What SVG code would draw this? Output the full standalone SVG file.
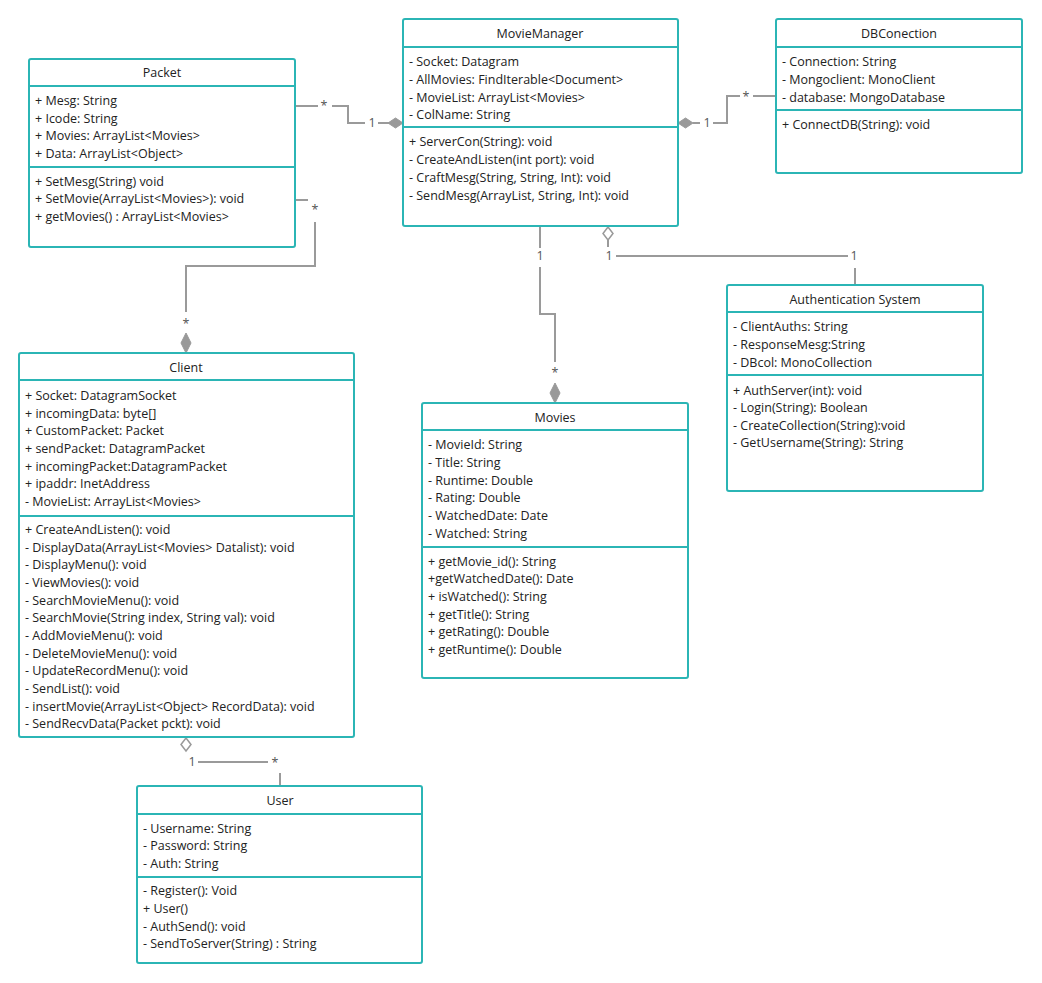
<svg xmlns="http://www.w3.org/2000/svg" width="1042" height="983" viewBox="0 0 1042 983">
<style>
.box{fill:#fff;stroke:#2bb5b5;stroke-width:2}
.div{stroke:#2bb5b5;stroke-width:2}
text{font-family:"Open Sans","Noto Sans",sans-serif;font-size:12.5px;fill:#222}
.t{text-anchor:middle}
.c line,.c polyline{stroke:#9a9a9a;stroke-width:2;fill:none}
.c text{fill:#555;text-anchor:middle}
.fd{fill:#999;stroke:#999}
.hd{fill:#fff;stroke:#999;stroke-width:1.5}
</style>
<rect width="1042" height="983" fill="#fff"/>
<g class="c" id="connectors">
<polyline points="295,106 318,106"/><text x="324" y="110">*</text>
<polyline points="332,106 348,106 348,123 365,123"/><text x="372" y="127">1</text>
<polyline points="378,123 390,123"/><polygon class="fd" points="388,123 395.5,118 403,123 395.5,128"/>
<polygon class="fd" points="678,123 685.5,118 693,123 685.5,128"/><polyline points="693,123 700,123"/><text x="707" y="127">1</text>
<polyline points="713,123 727,123 727,96 740,96"/><text x="746" y="101">*</text><polyline points="753,96 776,96"/>
<polyline points="295,200 308,200"/><text x="315" y="214">*</text>
<polyline points="315,222 315,266 186,266 186,312"/><text x="186" y="328">*</text>
<polygon class="fd" points="186,333 191,343 186,353 181,343"/>
<polyline points="540,226 540,248"/><text x="540" y="260">1</text>
<polyline points="540,267 540,314 555,314 555,362"/><text x="555" y="377">*</text>
<polygon class="fd" points="555,383 560,393 555,403 550,393"/>
<polygon class="hd" points="608,227 613,233.5 608,240 603,233.5"/><polyline points="608,240 608,247"/>
<text x="609" y="260">1</text><polyline points="616,256 848,256"/><text x="854" y="260">1</text>
<polyline points="855,268 855,285"/>
<polygon class="hd" points="186,738 191,744.5 186,751 181,744.5"/>
<text x="192" y="766">1</text><polyline points="198,762 268,762"/><text x="275" y="767">*</text>
<polyline points="280,773 280,786"/>
</g>
<g id="Packet">
<rect class="box" x="29" y="59" width="266" height="188" rx="2"/>
<line class="div" x1="29" y1="86" x2="295" y2="86"/><line class="div" x1="29" y1="167" x2="295" y2="167"/>
<text class="t" x="162" y="77">Packet</text>
<text x="35" y="105">+ Mesg: String</text><text x="35" y="123">+ Icode: String</text>
<text x="35" y="140">+ Movies: ArrayList&lt;Movies&gt;</text><text x="35" y="158">+ Data: ArrayList&lt;Object&gt;</text>
<text x="35" y="186">+ SetMesg(String)  void</text><text x="35" y="203">+ SetMovie(ArrayList&lt;Movies&gt;): void</text>
<text x="35" y="221">+ getMovies() : ArrayList&lt;Movies&gt;</text>
</g>
<g id="MovieManager">
<rect class="box" x="403" y="19" width="275" height="207" rx="2"/>
<line class="div" x1="403" y1="47" x2="678" y2="47"/><line class="div" x1="403" y1="127" x2="678" y2="127"/>
<text class="t" x="540" y="38">MovieManager</text>
<text x="409" y="66">-  Socket: Datagram</text><text x="409" y="84">- AllMovies: FindIterable&lt;Document&gt;</text>
<text x="409" y="102">- MovieList: ArrayList&lt;Movies&gt;</text><text x="409" y="119">- ColName: String</text>
<text x="409" y="146">+ ServerCon(String): void</text><text x="409" y="164">- CreateAndListen(int port): void</text>
<text x="409" y="182">- CraftMesg(String, String, Int): void</text><text x="409" y="200">- SendMesg(ArrayList, String, Int): void</text>
</g>
<g id="DBConection">
<rect class="box" x="776" y="19" width="246" height="154" rx="2"/>
<line class="div" x1="776" y1="47" x2="1022" y2="47"/><line class="div" x1="776" y1="110" x2="1022" y2="110"/>
<text class="t" x="899" y="38">DBConection</text>
<text x="782" y="66">-  Connection: String</text><text x="782" y="84">- Mongoclient: MonoClient</text>
<text x="782" y="102">- database: MongoDatabase</text><text x="782" y="129">+ ConnectDB(String): void</text>
</g>
<g id="AuthenticationSystem">
<rect class="box" x="727" y="285" width="256" height="206" rx="2"/>
<line class="div" x1="727" y1="312" x2="983" y2="312"/><line class="div" x1="727" y1="375" x2="983" y2="375"/>
<text class="t" x="855" y="304">Authentication System</text>
<text x="733" y="331">-  ClientAuths: String</text><text x="733" y="349">- ResponseMesg:String</text>
<text x="733" y="367">- DBcol: MonoCollection</text>
<text x="733" y="395">+ AuthServer(int): void</text><text x="733" y="412">- Login(String): Boolean</text>
<text x="733" y="430">- CreateCollection(String):void</text><text x="733" y="447">- GetUsername(String): String</text>
</g>
<g id="Movies">
<rect class="box" x="422" y="403" width="266" height="275" rx="2"/>
<line class="div" x1="422" y1="430" x2="688" y2="430"/><line class="div" x1="422" y1="547" x2="688" y2="547"/>
<text class="t" x="555" y="422">Movies</text>
<text x="428" y="449">-  MovieId: String</text><text x="428" y="467">- Title: String</text>
<text x="428" y="485">- Runtime: Double</text><text x="428" y="502">- Rating: Double</text>
<text x="428" y="520">- WatchedDate: Date</text><text x="428" y="538">- Watched: String</text>
<text x="428" y="566">+ getMovie_id(): String</text><text x="428" y="583">+getWatchedDate(): Date</text>
<text x="428" y="601">+ isWatched(): String</text><text x="428" y="619">+ getTitle(): String</text>
<text x="428" y="636">+ getRating(): Double</text><text x="428" y="654">+ getRuntime(): Double</text>
</g>
<g id="Client">
<rect class="box" x="19" y="353" width="335" height="384" rx="2"/>
<line class="div" x1="19" y1="380" x2="354" y2="380"/><line class="div" x1="19" y1="516" x2="354" y2="516"/>
<text class="t" x="186" y="372">Client</text>
<text x="25" y="400">+ Socket: DatagramSocket</text><text x="25" y="418">+ incomingData: byte[]</text>
<text x="25" y="435">+ CustomPacket: Packet</text><text x="25" y="453">+ sendPacket: DatagramPacket</text>
<text x="25" y="471">+ incomingPacket:DatagramPacket</text><text x="25" y="488">+ ipaddr: InetAddress</text>
<text x="25" y="506">- MovieList: ArrayList&lt;Movies&gt;</text>
<text x="25" y="534">+  CreateAndListen(): void</text><text x="25" y="552">- DisplayData(ArrayList&lt;Movies&gt; Datalist): void</text>
<text x="25" y="569">- DisplayMenu(): void</text><text x="25" y="587">- ViewMovies(): void</text>
<text x="25" y="605">- SearchMovieMenu(): void</text><text x="25" y="622">- SearchMovie(String index, String val): void</text>
<text x="25" y="640">- AddMovieMenu(): void</text><text x="25" y="658">- DeleteMovieMenu(): void</text>
<text x="25" y="675">- UpdateRecordMenu(): void</text><text x="25" y="693">- SendList(): void</text>
<text x="25" y="711">- insertMovie(ArrayList&lt;Object&gt; RecordData): void</text><text x="25" y="728">- SendRecvData(Packet pckt): void</text>
</g>
<g id="User">
<rect class="box" x="137" y="786" width="285" height="177" rx="2"/>
<line class="div" x1="137" y1="814" x2="422" y2="814"/><line class="div" x1="137" y1="877" x2="422" y2="877"/>
<text class="t" x="280" y="805">User</text>
<text x="143" y="833">-  Username: String</text><text x="143" y="850">- Password: String</text>
<text x="143" y="868">- Auth: String</text>
<text x="143" y="895">-  Register(): Void</text><text x="143" y="913">+ User()</text>
<text x="143" y="931">- AuthSend(): void</text><text x="143" y="948">- SendToServer(String) : String</text>
</g>
</svg>
